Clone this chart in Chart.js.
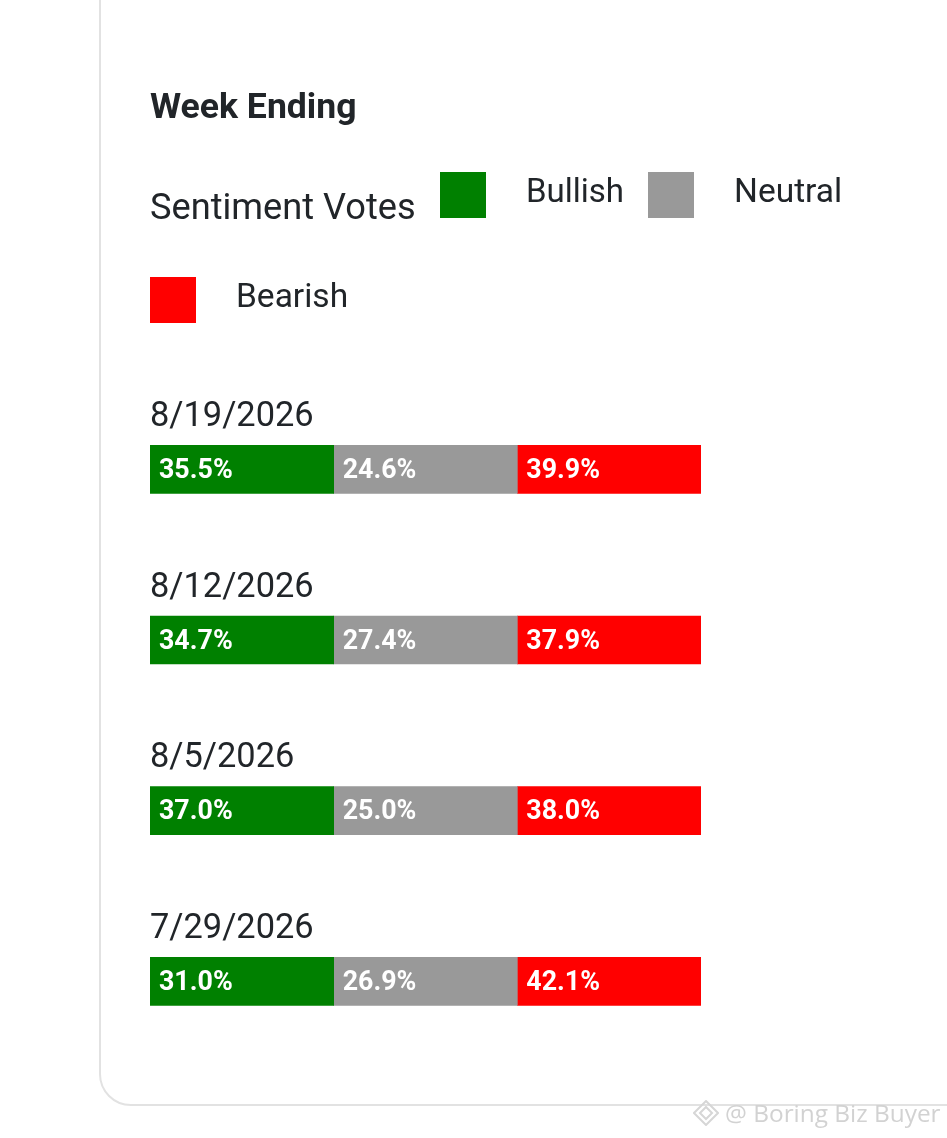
<!DOCTYPE html>
<html>
<head>
<meta charset="utf-8">
<script src="https://cdn.jsdelivr.net/npm/chart.js@4"></script>
<style>
    html, body { margin: 0; padding: 0; background: #fff; }
    body { width: 947px; height: 1138px; position: relative; overflow: hidden; font-family: Roboto, sans-serif; color: #212529; }
    .card { position: absolute; left: 99px; top: -40px; width: 900px; height: 1146px; box-sizing: border-box; border: 2px solid #e2e2e2; border-radius: 32px; }
    .wrap { position: absolute; left: 0; top: 0; width: 947px; height: 1138px; }
    .txt { position: absolute; white-space: nowrap; line-height: 1; }
    .title { left: 150px; top: 89px; font-size: 35.6px; font-weight: 700; }
    .leg { font-size: 33.5px; }
    .box { position: absolute; width: 46px; height: 46px; }
    .mark { position: absolute; left: 693px; top: 1100px; width: 26px; height: 26px; }
    .water { left: 725px; top: 1101px; font-size: 24.4px; color: #d2d2d2; font-family: "Open Sans", sans-serif; }
</style>
</head>
<body>
<div class="card"></div>
<div class="wrap"><canvas id="sentimentChart" width="947" height="1138"></canvas></div>

<div class="txt title">Week Ending</div>
<div class="txt leg" style="left:150px;top:189px;font-size:36.2px;">Sentiment Votes</div>
<div class="box" style="left:440px;top:172px;background:#008000;"></div>
<div class="txt leg" style="left:526px;top:174px;font-size:33px;">Bullish</div>
<div class="box" style="left:648px;top:172px;background:#999999;"></div>
<div class="txt leg" style="left:734px;top:174px;">Neutral</div>
<div class="box" style="left:150px;top:277px;background:#ff0000;"></div>
<div class="txt leg" style="left:236px;top:279px;">Bearish</div>

<svg class="mark" viewBox="0 0 26 26"><path d="M13 1 L25 13 L13 25 L1 13 Z M13 7 L19 13 L13 19 L7 13 Z" fill="none" stroke="#d6d6d6" stroke-width="2"/></svg>
<div class="txt water">@ Boring Biz Buyer</div>

<script>
let weeks = ['8/19/2026', '8/12/2026', '8/5/2026', '7/29/2026'];
let bullish = [35.5, 34.7, 37.0, 31.0];
let neutral = [24.6, 27.4, 25.0, 26.9];
let bearish = [39.9, 37.9, 38.0, 42.1];
// the source draws all three segments the same width, whatever the percentage
let segments = [1, 1, 1, 1];

let percentLabels = {
    id: 'percentLabels',
    afterDatasetsDraw(chart) {
        let ctx = chart.ctx;
        ctx.save();
        ctx.textBaseline = 'middle';
        ctx.textAlign = 'left';
        ctx.font = '700 26.8px Roboto';
        ctx.fillStyle = '#fff';
        chart.data.datasets.forEach((ds, d) => {
            chart.getDatasetMeta(d).data.forEach((bar, i) => {
                ctx.fillText(ds.percent[i].toFixed(1) + '%', bar.base + 9, bar.y + 2);
            });
        });
        ctx.restore();
    }
};

let weekLabels = {
    id: 'weekLabels',
    afterDraw(chart) {
        let ctx = chart.ctx;
        ctx.save();
        ctx.textBaseline = 'middle';
        ctx.textAlign = 'left';
        ctx.font = '400 34.4px Roboto';
        ctx.fillStyle = '#212529';
        weeks.forEach((w, i) => {
            ctx.fillText(w, chart.chartArea.left, chart.scales.y.getPixelForValue(i) - 52);
        });
        ctx.restore();
    }
};

new Chart(document.getElementById('sentimentChart'), {
    type: 'bar',
    data: {
        labels: weeks,
        datasets: [
            { label: 'Bullish', data: segments, percent: bullish, backgroundColor: '#008000' },
            { label: 'Neutral', data: segments, percent: neutral, backgroundColor: '#999999' },
            { label: 'Bearish', data: segments, percent: bearish, backgroundColor: '#ff0000' },
        ],
    },
    options: {
        indexAxis: 'y',
        responsive: false,
        animation: false,
        devicePixelRatio: 1,
        barThickness: 48,
        layout: { padding: { left: 150, right: 246, top: 384, bottom: 71.33 } },
        scales: {
            x: { stacked: true, display: false, min: 0, max: 3 },
            y: { stacked: true, display: false },
        },
        plugins: { legend: { display: false }, tooltip: { enabled: false } },
    },
    plugins: [percentLabels, weekLabels],
});
</script>
</body>
</html>
